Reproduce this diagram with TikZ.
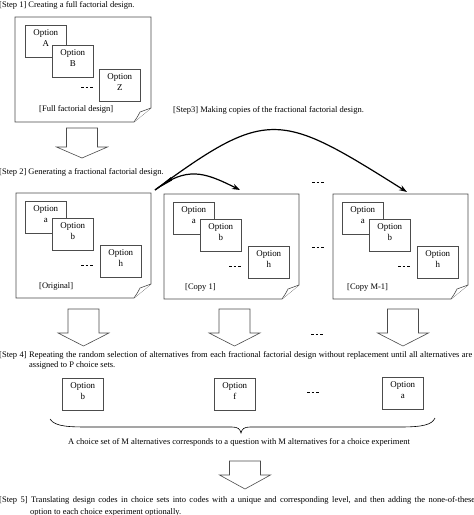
\documentclass[tikz,border=0pt]{standalone}
\usepackage{fontspec}
\setmainfont{Liberation Serif}
\usetikzlibrary{arrows.meta}
\newcommand\mydashes{\rule[2.2pt]{2.6pt}{0.6pt}\hspace{1.8pt}\rule[2.2pt]{2.6pt}{0.6pt}\hspace{1.8pt}\rule[2.2pt]{2.6pt}{0.6pt}}
\begin{document}
\begin{tikzpicture}[x=1pt,y=-1pt,
  every node/.style={font=\fontsize{8.5}{11}\selectfont, inner sep=0pt},
  page/.style={draw=black!70, line width=0.6pt, fill=white},
  optbox/.style={draw=black!70, line width=0.6pt, fill=white, minimum width=41pt, minimum height=32pt, anchor=north west},
  opttext/.style={align=center, anchor=north, font=\fontsize{8.9}{11}\selectfont},
  hollow/.style={draw=black!70, line width=0.6pt, fill=white},
  copyarrow/.style={line width=1.2pt, -{Stealth[length=8pt,width=5.5pt]}},
  steptext/.style={anchor=west},
]
\useasboundingbox (0,0) rectangle (474,515);
\newcommand\optbox[4]{%
  \node[optbox] (#1) at (#2,#3) {};
  \node[opttext] (#1t) at ([yshift=-4.3pt]#1.north) {Option\\#4};}
\newcommand\harrow[4]{%
  \draw[hollow] (#1-15.5,#2) -- (#1+15.5,#2) -- (#1+15.5,#3) -- (#1+25.5,#3) -- (#1,#4) -- (#1-25.5,#3) -- (#1-15.5,#3) -- cycle;}
\newcommand\docpage[5]{%
  \draw[page] (#2,#3) -- (#4,#3) -- (#4,#5-14) -- (#4-17,#5) -- (#2,#5) -- cycle;
  \draw[page] (#4,#5-14) .. controls (#4-5,#5-12) .. (#4-11,#5-10) .. controls (#4-13,#5-6) .. (#4-17,#5);
  \coordinate (#1nw) at (#2,#3);
  \coordinate (#1ne) at (#4,#3);}
\newcommand\fracdesign[6]{% prefix, x, y, label x offset, label, (unused)
  \docpage{#1}{#2}{#3}{#2+135}{#3+105}
  \optbox{#1a}{#2+9}{#3+8}{a}
  \optbox{#1b}{#2+36}{#3+25}{b}
  \optbox{#1h}{#2+84}{#3+52}{h}
  \node (#1dots) at (#2+71,#3+73) {\mydashes};
  \node[anchor=west] (#1lab) at (#2+#4,#3+93) {#5};}

% Step 1
\node[steptext] (s1) at (-1,5) {[Step 1] Creating a full factorial design.};
\docpage{full}{15}{17}{151}{122}
\optbox{fA}{25}{25}{A}
\optbox{fB}{52}{45}{B}
\optbox{fZ}{99}{69}{Z}
\node (fdots) at (87,88) {\mydashes};
\node[anchor=west] (flab) at (39,109) {[Full factorial design]};
\harrow{82}{128}{147}{158}

% Step 3 text
\node[steptext] (s3) at (173,110) {[Step3] Making copies of the fractional factorial design.};

% Step 2
\node[steptext] (s2) at (-1,172) {[Step 2] Generating a fractional factorial design.};
\fracdesign{orig}{16}{193}{23}{[Original]}{}
\fracdesign{cpa}{164}{194}{21}{[Copy 1]}{}
\fracdesign{cpm}{333}{194}{14}{[Copy M-1]}{}
\node (topdots) at (318,183) {\mydashes};
\node (middots) at (318,248) {\mydashes};

% copy arrows
\coordinate (src) at (155,190);
\coordinate (c1top) at (240,190);
\coordinate (cmtop) at (407,192);
\fill (src) -- (171,177) -- (172,180.5) -- cycle;
\draw[copyarrow] (src) .. controls (187,166) and (204,172) .. (c1top);
\draw[copyarrow] (src) .. controls (268,107) and (280,112) .. (cmtop);

% Step 4 arrows
\harrow{83.5}{309}{333}{346}
\harrow{234.5}{309}{333}{346}
\harrow{403}{309}{333}{346}
\node (adots) at (317,335) {\mydashes};

\node[steptext] (s4) at (-1,355) {\makebox[473pt][s]{[Step 4] Repeating the random selection of alternatives from each fractional factorial design without replacement until all alternatives are}};
\node[steptext] (s4b) at (29,365) {assigned to P choice sets.};

\optbox{cb}{62}{378}{b}
\optbox{cf}{214}{378}{f}
\optbox{ca}{382}{377}{a}
\node (cdots) at (313,393) {\mydashes};

% brace
\coordinate (bl) at (50,419);
\coordinate (bm) at (241,433);
\coordinate (br) at (435,418);
\draw[line width=0.6pt] (bl) .. controls (55,427) and (70,427) .. (92,427) -- (232,427) .. controls (238,427) and (240,429) .. (bm) .. controls (242,429) and (244,427) .. (250,427) -- (400,427) .. controls (422,427) and (432,425) .. (br);
\node (cs) at (239,442) {A choice set of M alternatives corresponds to a question with M alternatives for a choice experiment};

\harrow{245}{461}{475}{489}

\node[steptext] (s5) at (-1,500) {\makebox[476pt][s]{[Step 5] Translating design codes in choice sets into codes with a unique and corresponding level, and then adding the none-of-these}};
\node[steptext] (s5b) at (30,512.5) {option to each choice experiment optionally.};
\end{tikzpicture}
\end{document}
